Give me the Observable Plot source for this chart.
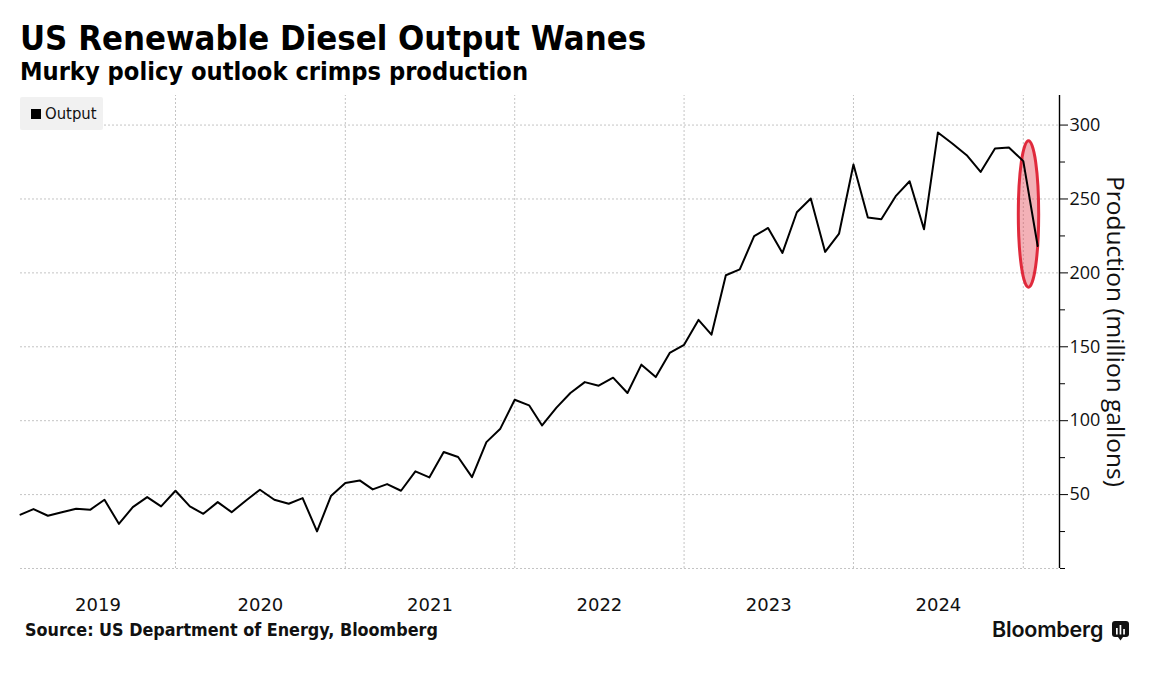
<!DOCTYPE html>
<html>
<head>
<meta charset="utf-8">
<script src="https://cdn.jsdelivr.net/npm/d3@7"></script>
<script src="https://cdn.jsdelivr.net/npm/@observablehq/plot@0.6"></script>
<style>
  html, body { margin: 0; padding: 0; background: #fff; }
  #wrap { position: relative; width: 1162px; height: 674px; overflow: hidden; background: #fff; }
  #title { position: absolute; left: 20px; top: 21px; font-family: "DejaVu Sans", sans-serif; font-stretch: condensed; font-weight: 700; font-size: 34.4px; line-height: 1; color: #000; white-space: nowrap; }
  #subtitle { position: absolute; left: 20px; top: 59px; font-family: "DejaVu Sans", sans-serif; font-stretch: condensed; font-weight: 700; font-size: 25.2px; line-height: 1; color: #000; white-space: nowrap; }
  #chart { position: absolute; left: 0; top: 80px; }
  #legend { position: absolute; left: 20px; top: 97px; width: 83px; height: 33px; background: #f1f1f1; border-radius: 2px; font-family: "DejaVu Sans", sans-serif; font-stretch: condensed; font-size: 16.5px; color: #111; display: flex; align-items: center; }
  #legend .sw { width: 10px; height: 10px; background: #000; margin-left: 11px; margin-right: 4px; }
  #source { position: absolute; left: 25px; top: 621px; font-family: "DejaVu Sans", sans-serif; font-stretch: condensed; font-weight: 700; font-size: 17.8px; line-height: 1; color: #111; white-space: nowrap; }
  #logo { position: absolute; left: 992px; top: 618px; font-family: Inter, "Noto Sans", sans-serif; font-weight: 600; font-size: 21.5px; line-height: 1; color: #111; display: flex; align-items: center; white-space: nowrap; letter-spacing: -0.2px; }
  #logo svg { margin-left: 9px; margin-top: 3px; }
</style>
</head>
<body>
<div id="wrap">
  <div id="title">US Renewable Diesel Output Wanes</div>
  <div id="subtitle">Murky policy outlook crimps production</div>
  <div id="chart"></div>
  <div id="legend"><span class="sw"></span><span>Output</span></div>
  <div id="source">Source: US Department of Energy, Bloomberg</div>
  <div id="logo">Bloomberg<svg width="17" height="20" viewBox="0 0 17 20"><rect x="0" y="0" width="17" height="16" rx="3" fill="#111"/><path d="M6 16 L8.5 19.5 L11 16 Z" fill="#111"/><rect x="4" y="7" width="1.7" height="6.5" fill="#fff"/><rect x="7.6" y="4" width="1.7" height="9.5" fill="#fff"/><rect x="11.2" y="8" width="1.7" height="5.5" fill="#fff"/></svg></div>
</div>
<script>
// ---- Data (monthly US renewable diesel output, million gallons) ----
const months = [
  "2019-02","2019-03","2019-04","2019-05","2019-06","2019-07","2019-08","2019-09","2019-10","2019-11","2019-12",
  "2020-01","2020-02","2020-03","2020-04","2020-05","2020-06","2020-07","2020-08","2020-09","2020-10","2020-11","2020-12",
  "2021-01","2021-02","2021-03","2021-04","2021-05","2021-06","2021-07","2021-08","2021-09","2021-10","2021-11","2021-12",
  "2022-01","2022-02","2022-03","2022-04","2022-05","2022-06","2022-07","2022-08","2022-09","2022-10","2022-11","2022-12",
  "2023-01","2023-02","2023-03","2023-04","2023-05","2023-06","2023-07","2023-08","2023-09","2023-10","2023-11","2023-12",
  "2024-01","2024-02","2024-03","2024-04","2024-05","2024-06","2024-07","2024-08","2024-09","2024-10","2024-11","2024-12",
  "2025-01","2025-02"
];
const output = [
  36.4, 40.2, 35.7, 38.1, 40.4, 39.7, 46.5, 30.2, 41.5, 48.3, 42.0,
  52.6, 42.0, 37.0, 44.9, 38.1, 46.0, 53.3, 46.5, 43.8, 47.6, 25.1, 49.0,
  57.8, 59.6, 53.5, 57.1, 52.6, 65.7, 61.6, 78.8, 75.4, 61.8, 85.5, 94.6,
  114.2, 110.4, 96.8, 108.8, 118.7, 126.1, 123.7, 129.1, 118.7, 137.9, 129.5, 145.8,
  151.3, 168.2, 158.2, 198.4, 202.4, 224.8, 230.4, 213.5, 241.0, 250.3, 214.2, 226.6,
  273.3, 237.4, 236.3, 251.9, 262.0, 229.5, 295.0, 287.5, 279.6, 268.3, 284.1, 284.8,
  275.6, 218.2
];
const yearLabels = ["2019","2020","2021","2022","2023","2024"];
const yearBoundaries = ["2020","2021","2022","2023","2024","2025"];
const yMajorTicks = [50, 100, 150, 200, 250, 300];
const yMinorTicks = [0, 25, 75, 125, 175, 225, 275];
const yGridLines = [0, 50, 100, 150, 200, 250, 300];
const yDomain = [0, 320];
const yLabel = "Production (million gallons)";
// highlighted drop (ellipse annotation): months spanned and value range
const highlightMonths = ["2025-01", "2025-02"];
const highlightRange = [190, 289];

// ---- Build ----
const parseMonth = d3.utcParse("%Y-%m");
const parseYear = d3.utcParse("%Y");
const data = months.map((m, i) => ({date: parseMonth(m), value: output[i]}));
const xDomain = [parseMonth("2019-02"), new Date(Date.UTC(2025, 2, 20))];
const boundaryDates = yearBoundaries.map(parseYear);
const labelDates = yearLabels.map(y => {
  const s = Math.max(+parseYear(y), +xDomain[0]);
  const e = Math.min(+d3.utcYear.offset(parseYear(y), 1), +xDomain[1]);
  return new Date((s + e) / 2);
});

const gridStyle = {stroke: "#c4c4c4", strokeWidth: 1, strokeDasharray: "2,2", strokeOpacity: 1};

const plot = Plot.plot({
  width: 1162,
  height: 560,
  marginLeft: 20,
  marginRight: 103,
  marginTop: 15,
  marginBottom: 72,
  style: {fontFamily: "'Open Sans', 'Noto Sans', sans-serif", background: "transparent", color: "#111"},
  x: {type: "utc", domain: xDomain},
  y: {domain: yDomain},
  marks: [
    Plot.ruleY(yGridLines, gridStyle),
    Plot.ruleX(boundaryDates, {...gridStyle, y1: yDomain[0], y2: yDomain[1]}),
    Plot.ruleX([xDomain[1]], {y1: yDomain[0], y2: yDomain[1], stroke: "#000", strokeWidth: 1.4}),
    Plot.axisY(yMajorTicks, {anchor: "right", tickSize: 8, tickPadding: 2, fontSize: 18, stroke: "#000", label: null}),
    Plot.axisY(yMinorTicks, {anchor: "right", tickSize: 5, stroke: "#000", tickFormat: () => "", label: null}),
    Plot.axisX(labelDates, {anchor: "bottom", tickSize: 0, tickPadding: 30, fontSize: 18,
      fontFamily: "'DejaVu Sans', sans-serif", fontStretch: "condensed",
      tickFormat: d3.utcFormat("%Y"), label: null}),
    Plot.line(data, {x: "date", y: "value", stroke: "#000", strokeWidth: 2})
  ]
});

const NS = "http://www.w3.org/2000/svg";
const sx = plot.scale("x"), sy = plot.scale("y");

// ellipse annotation positioned through the plot's own scales
const hx = highlightMonths.map(m => sx.apply(parseMonth(m)));
const hy = highlightRange.map(v => sy.apply(v));
const ell = document.createElementNS(NS, "ellipse");
ell.setAttribute("cx", (hx[0] + hx[1]) / 2 - 1.5);
ell.setAttribute("cy", (hy[0] + hy[1]) / 2);
ell.setAttribute("rx", Math.abs(hx[1] - hx[0]) / 2 + 3);
ell.setAttribute("ry", Math.abs(hy[1] - hy[0]) / 2);
ell.setAttribute("fill", "#e23c4b");
ell.setAttribute("fill-opacity", "0.4");
ell.setAttribute("stroke", "#e02a3c");
ell.setAttribute("stroke-width", "3");
const lineG = plot.querySelector('g[aria-label="line"]');
plot.insertBefore(ell, lineG);

// y-axis title, rotated clockwise, centred on the y range
const xRight = sx.apply(xDomain[1]);
const yMid = sy.apply((yDomain[0] + yDomain[1]) / 2);
const lab = document.createElementNS(NS, "text");
lab.setAttribute("transform", `translate(${xRight + 48},${yMid}) rotate(90)`);
lab.setAttribute("text-anchor", "middle");
lab.setAttribute("font-family", "'Open Sans', 'Noto Sans', sans-serif");
lab.setAttribute("font-size", "24.5");
lab.setAttribute("fill", "#111");
lab.textContent = yLabel;
plot.appendChild(lab);

document.getElementById("chart").appendChild(plot);
</script>
</body>
</html>
